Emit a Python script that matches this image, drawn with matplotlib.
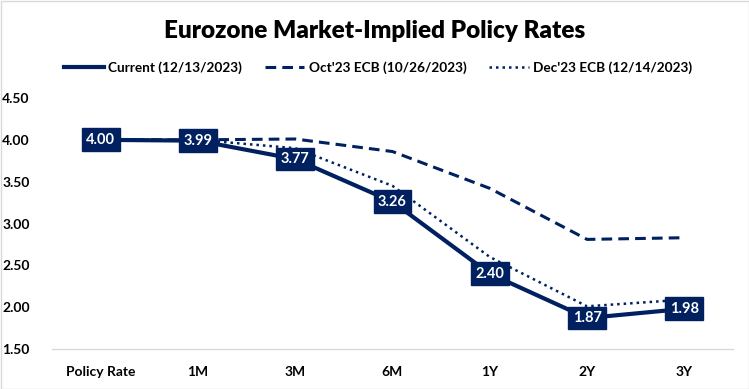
import matplotlib
matplotlib.use("Agg")
import matplotlib.pyplot as plt
from matplotlib.patches import Rectangle

categories = ["Policy Rate", "1M", "3M", "6M", "1Y", "2Y", "3Y"]
current = [4.00, 3.99, 3.77, 3.26, 2.40, 1.87, 1.98]
oct_ecb = [4.00, 4.00, 4.01, 3.86, 3.42, 2.81, 2.83]
dec_ecb = [4.00, 4.00, 3.90, 3.45, 2.60, 2.01, 2.09]
yticks = [1.50, 2.00, 2.50, 3.00, 3.50, 4.00, 4.50]

navy = "#002060"
plt.rcParams["font.family"] = ["Lato", "DejaVu Sans"]
plt.rcParams["font.weight"] = "bold"

fig = plt.figure(figsize=(7.49, 3.89), dpi=100)
ax = fig.add_axes([52 / 749, 40 / 389, 681 / 749, 251 / 389])
x = list(range(len(categories)))

ax.plot(x, oct_ecb, color=navy, lw=2.2, ls=(0, (3.5, 2)), label="Oct'23 ECB (10/26/2023)")
ax.plot(x, dec_ecb, color=navy, lw=1.8, ls=(0, (1, 1.6)), label="Dec'23 ECB (12/14/2023)")
ax.plot(x, current, color=navy, lw=3, label="Current (12/13/2023)", zorder=3)

for xi, v in zip(x, current):
    ax.text(xi, v, f"{v:.2f}", ha="center", va="center", color="white",
            fontsize=10.5, fontweight="bold", zorder=5,
            bbox=dict(boxstyle="square,pad=0.3", fc=navy, ec=navy))

ax.set_xlim(-0.5, len(categories) - 0.5)
ax.set_ylim(1.5, 4.5)
ax.set_xticks(x)
ax.set_xticklabels(categories, fontsize=10, fontweight="bold")
ax.set_yticks(yticks)
ax.set_yticklabels([f"{t:.2f}" for t in yticks], fontsize=10, fontweight="bold")
ax.tick_params(length=0, pad=12)
ax.tick_params(axis="y", pad=16)
for s in ["top", "right", "left"]:
    ax.spines[s].set_visible(False)
ax.spines["bottom"].set_color("#d9d9d9")
ax.spines["bottom"].set_linewidth(1)

handles, labels = ax.get_legend_handles_labels()
order = [2, 0, 1]
fig.legend([handles[i] for i in order], [labels[i] for i in order],
           loc="center", bbox_to_anchor=(0.505, 1 - 68 / 389), ncol=3, frameon=False,
           handlelength=2.9, handletextpad=0.3, columnspacing=1.7,
           prop={"weight": "bold", "size": 9.8})

fig.text(0.5, 1 - 31 / 389, "Eurozone Market-Implied Policy Rates", ha="center", va="center",
         fontsize=17.5, fontweight="heavy")

fig.patches.append(Rectangle((0.5 / 749, 0.5 / 389), 748 / 749, 388 / 389,
                             transform=fig.transFigure, fill=False, ec="#d9d9d9", lw=1))

fig.savefig("out.png", dpi=100)
